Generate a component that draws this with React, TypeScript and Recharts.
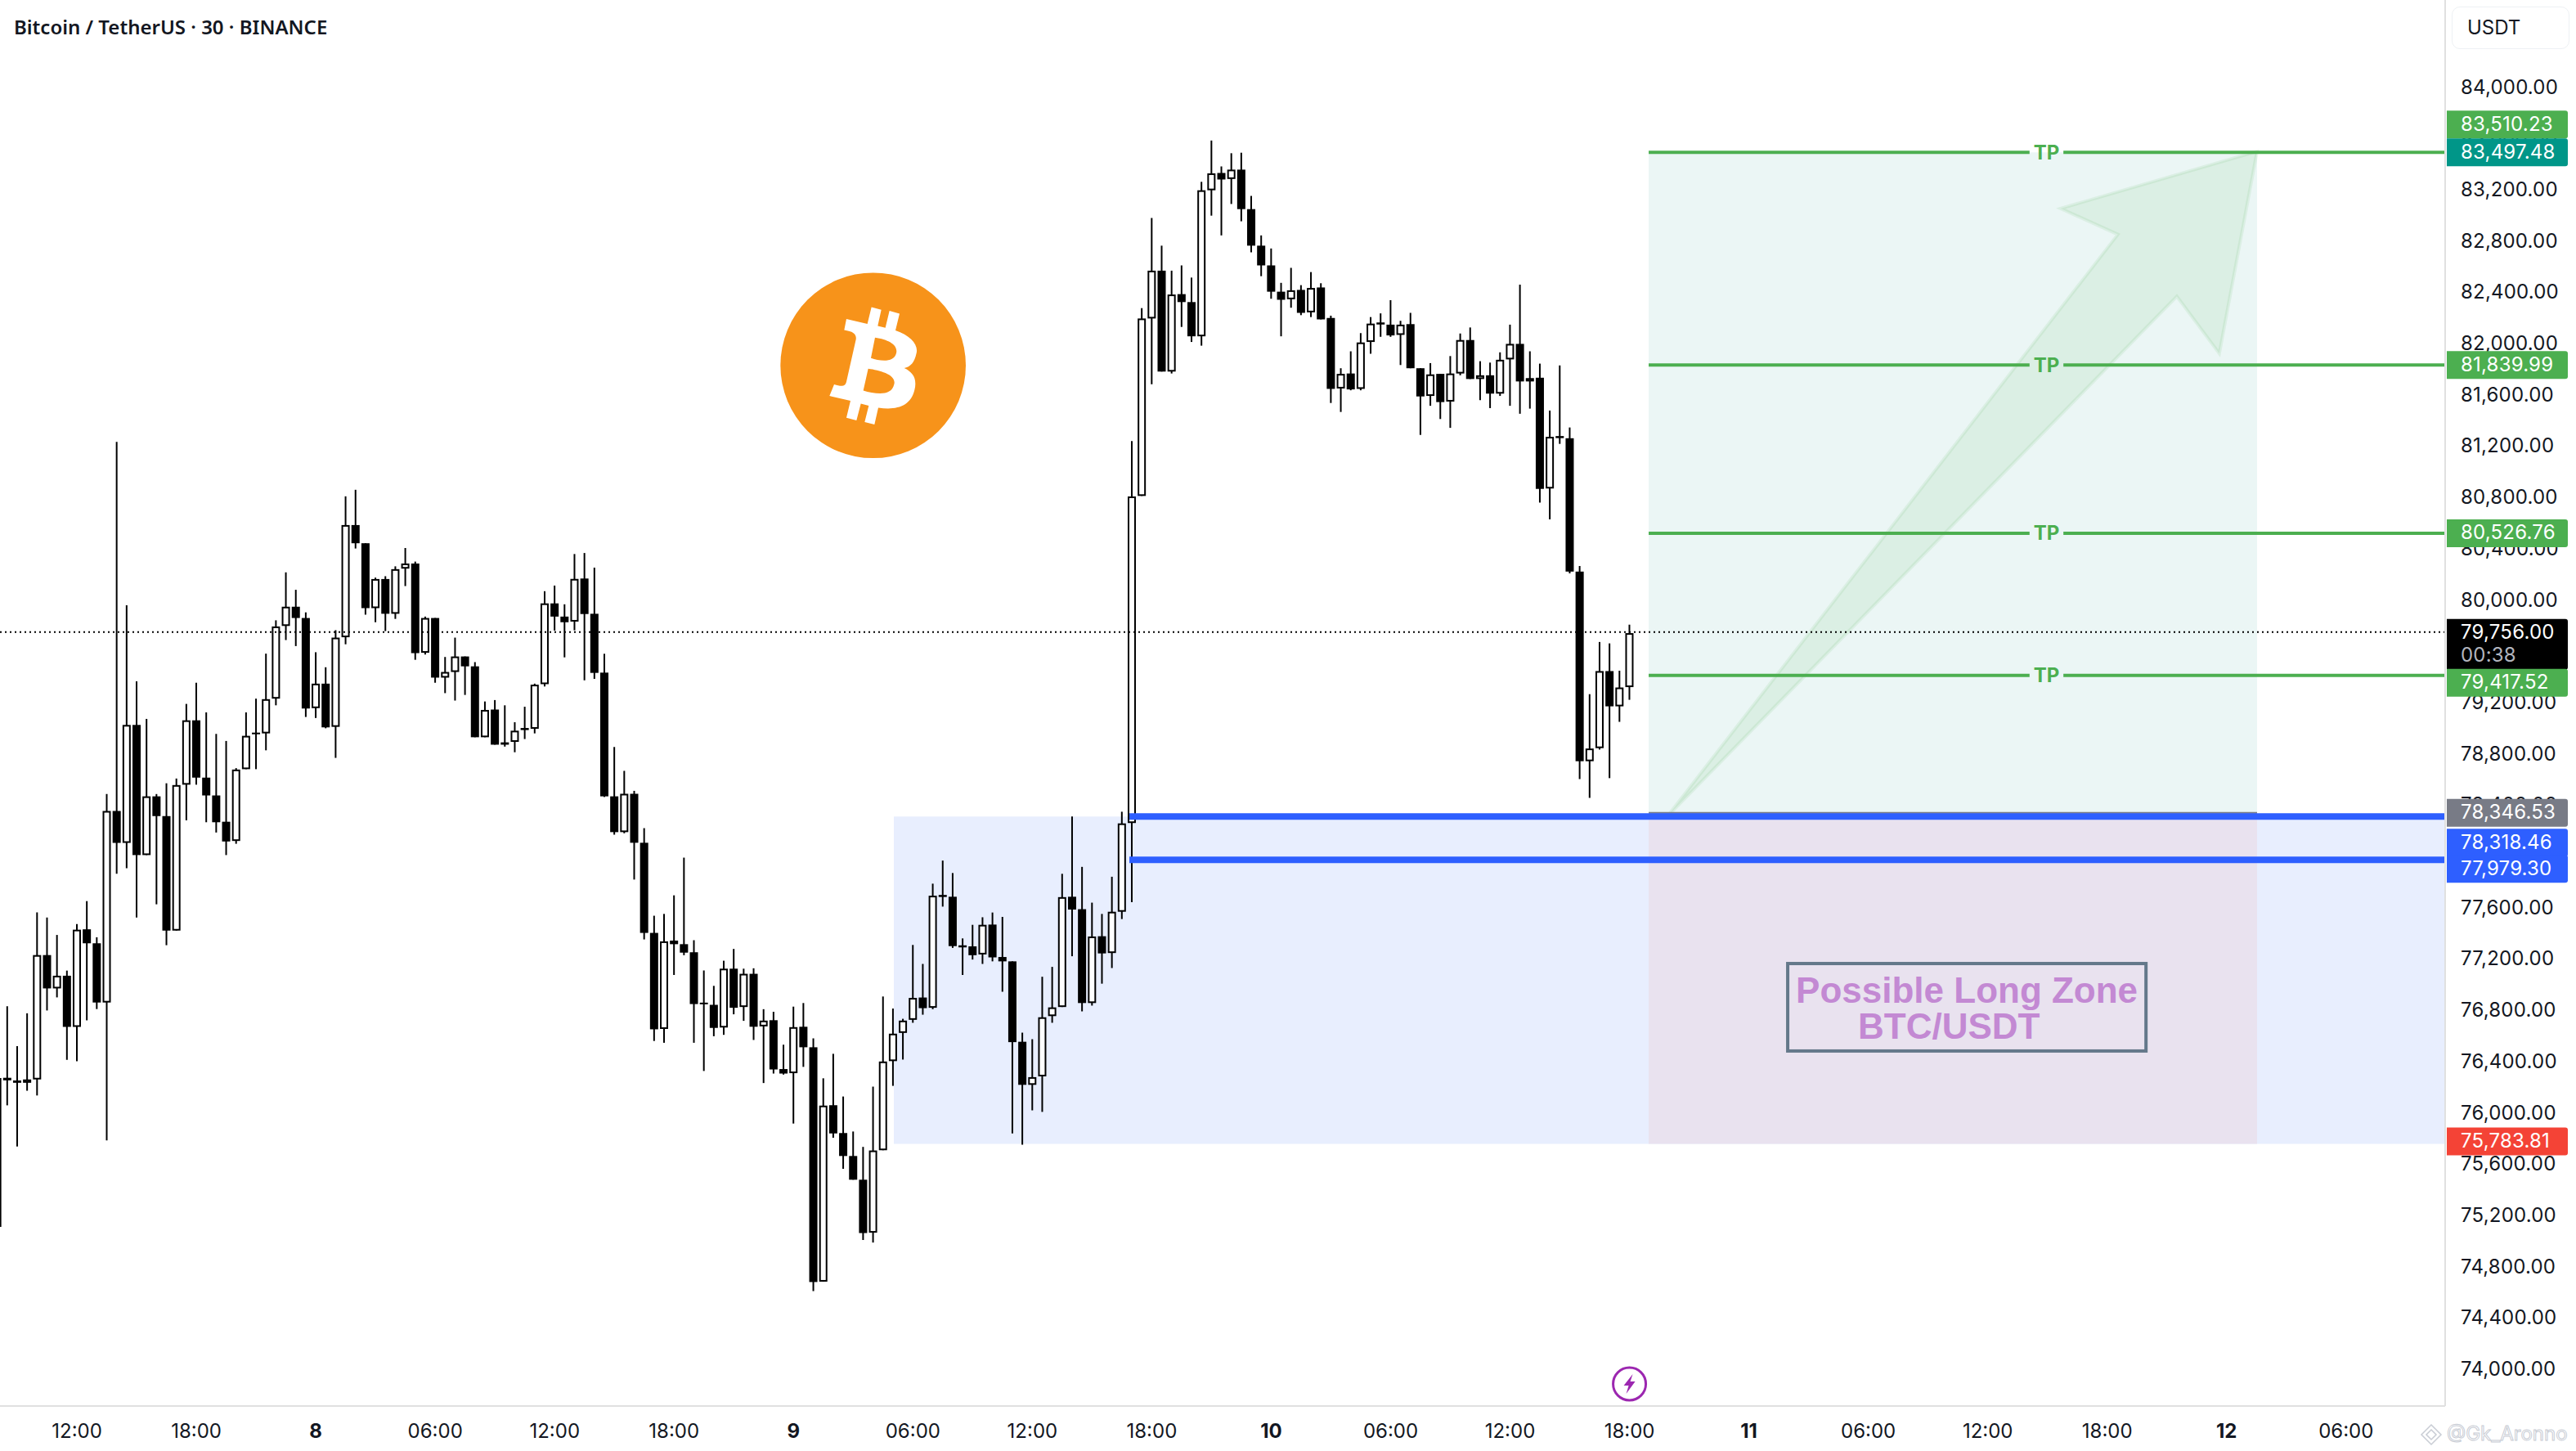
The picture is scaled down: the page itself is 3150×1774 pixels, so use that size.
import { Bar, ComposedChart, ReferenceArea, ReferenceDot, ReferenceLine, XAxis, YAxis } from 'recharts';

const CHART_W = 3150;
const CHART_H = 1774;
const FONT = 'Inter, "Noto Sans", sans-serif';

// BTC/USDT 30m candles, oldest first
const opens = [
  76278, 76280, 76259, 76241, 76267, 77237, 76977, 77076, 76677, 77438,
  77329, 76867, 78361, 78112, 79032, 78017, 78475, 78321, 77428, 78566,
  79068, 78621, 78482, 78277, 78127, 78687, 78972, 78966, 79237, 79804,
  79954, 79866, 79163, 79354, 79017, 79716, 80591, 80449, 79943, 80170,
  79899, 80251, 80291, 79595, 79866, 79401, 79445, 79566, 79489, 78936,
  79152, 78896, 78900, 78996, 79002, 79350, 79980, 79877, 79838, 80174,
  79899, 79440, 78475, 78196, 78495, 78113, 77410, 76661, 77350, 77322,
  77259, 76866, 76849, 76672, 77131, 76832, 77091, 76681, 76729, 76348,
  76316, 76678, 76518, 74690, 76066, 75849, 75670, 75485, 75072, 75715,
  76410, 76630, 76732, 76906, 76826, 77694, 77692, 77307, 77305, 77242,
  77475, 77222, 77188, 76561, 76225, 76291, 76761, 76832, 77692, 77595,
  76863, 77384, 77253, 77575, 78267, 80818, 82202, 82575, 81788, 82392,
  82330, 82063, 83202, 83337, 83290, 83363, 83055, 82770, 82616, 82411,
  82352, 82425, 82250, 82444, 82206, 81656, 81773, 81653, 82019, 82159,
  82154, 82074, 82158, 81814, 81598, 81770, 81554, 81773, 82034, 81730,
  81759, 81616, 81883, 82004, 81711, 81740, 80876, 81273, 81268, 80228,
  78749, 78851, 79452, 79177, 79327,
];
const highs = [
  76278, 76838, 76527, 76783, 77570, 77530, 77394, 77116, 77479, 77658,
  77376, 78493, 81240, 79965, 79372, 79079, 78493, 78577, 78614, 79196,
  79361, 79130, 78962, 78907, 78695, 79130, 79237, 79588, 79848, 80222,
  80086, 79910, 79599, 79482, 79771, 80815, 80866, 80449, 80181, 80192,
  80269, 80412, 80306, 79877, 79866, 79562, 79713, 79566, 79522, 79215,
  79226, 79185, 79053, 79174, 79354, 80075, 80119, 79973, 80365, 80373,
  80259, 79587, 78860, 78674, 78518, 78227, 77544, 77558, 77703, 77997,
  77353, 77117, 76997, 77193, 77285, 77131, 77134, 76815, 76795, 76538,
  76835, 76863, 76587, 76276, 76467, 76134, 75861, 75741, 76211, 76914,
  76820, 76740, 77316, 77168, 77794, 77974, 77877, 77367, 77473, 77532,
  77569, 77535, 77188, 76632, 76581, 77068, 77145, 77871, 78318, 77925,
  77646, 77558, 77848, 78355, 81246, 82283, 82986, 82770, 82575, 82616,
  82521, 83268, 83590, 83388, 83491, 83495, 83158, 82850, 82748, 82480,
  82597, 82462, 82564, 82477, 82224, 81814, 81946, 82088, 82213, 82242,
  82345, 82184, 82246, 81814, 81854, 81770, 81909, 82085, 82132, 81869,
  81858, 81938, 82154, 82466, 81946, 81850, 81484, 81836, 81352, 80272,
  79272, 79679, 79668, 79455, 79814,
];
const lows = [
  75117, 76065, 75744, 76179, 76142, 76805, 76907, 76420, 76409, 76728,
  76816, 75791, 77871, 77915, 77530, 78017, 77633, 77314, 77428, 78288,
  78566, 78273, 78193, 78017, 78105, 78687, 78687, 78834, 79185, 79694,
  79647, 79094, 79086, 79006, 78775, 79661, 80408, 79892, 79833, 79764,
  79859, 80115, 79540, 79581, 79361, 79280, 79222, 79266, 78936, 78936,
  78878, 78863, 78819, 78922, 78966, 79332, 79768, 79559, 79770, 79380,
  79391, 78470, 78176, 78187, 77826, 77359, 76567, 76553, 77082, 77236,
  76553, 76333, 76604, 76615, 76775, 76724, 76575, 76239, 76313, 76305,
  75923, 76365, 74616, 74690, 75812, 75570, 75485, 75015, 74995, 75715,
  76217, 76422, 76709, 76772, 76815, 77615, 77293, 77082, 77202, 77168,
  77188, 76951, 75846, 75758, 76026, 76014, 76709, 76832, 77228, 76798,
  76843, 77014, 77136, 77518, 77649, 80818, 81689, 81788, 81773, 82136,
  82019, 81990, 83004, 82850, 83095, 82960, 82718, 82532, 82356, 82063,
  82286, 82228, 82213, 82195, 81543, 81473, 81642, 81642, 81927, 82059,
  82059, 81839, 81814, 81294, 81521, 81418, 81349, 81759, 81730, 81565,
  81503, 81598, 81521, 81459, 81499, 80766, 80635, 81224, 80214, 78610,
  78463, 78840, 78617, 79056, 79228,
];
const closes = [
  75117, 76260, 76241, 76267, 77237, 76977, 77076, 76677, 77435, 77329,
  76867, 78361, 78112, 79032, 78017, 78475, 78321, 77428, 78563, 79068,
  78621, 78482, 78273, 78123, 78684, 78947, 78960, 79233, 79800, 79954,
  79866, 79160, 79354, 79013, 79713, 80591, 80449, 79943, 80170, 79899,
  80247, 80291, 79592, 79866, 79401, 79445, 79566, 79489, 78936, 79149,
  78878, 78878, 78987, 79008, 79346, 79980, 79877, 79833, 80171, 79897,
  79438, 78475, 78196, 78495, 78113, 77410, 76658, 77344, 77322, 77256,
  76855, 76854, 76669, 77131, 76826, 77091, 76678, 76726, 76345, 76313,
  76675, 76518, 74687, 76063, 75846, 75670, 75485, 75069, 75713, 76407,
  76624, 76726, 76903, 76823, 77700, 77706, 77307, 77313, 77236, 77473,
  77219, 77188, 76558, 76225, 76285, 76752, 76829, 77689, 77592, 76863,
  77382, 77250, 77575, 78264, 80814, 82202, 82575, 81788, 82389, 82330,
  82063, 83202, 83334, 83286, 83363, 83055, 82770, 82616, 82411, 82348,
  82422, 82246, 82440, 82195, 81653, 81770, 81649, 82015, 82162, 82171,
  82070, 82154, 81814, 81594, 81766, 81550, 81773, 82034, 81730, 81759,
  81616, 81880, 82004, 81711, 81737, 80873, 81279, 81285, 80228, 78749,
  78848, 79452, 79177, 79324, 79748,
];

const priceTicks = [
  74000, 74400, 74800, 75200, 75600, 76000, 76400, 76800, 77200, 77600, 78000,
  78400, 78800, 79200, 79600, 80000, 80400, 80800, 81200, 81600, 82000, 82400,
  82800, 83200, 83600, 84000,
];
const timeTicks = [8, 20, 32, 44, 56, 68, 80, 92, 104, 116, 128, 140, 152, 164, 176, 188, 200, 212, 224, 236];
const timeLabels = [
  '12:00', '18:00', '8', '06:00', '12:00', '18:00', '9', '06:00', '12:00', '18:00',
  '10', '06:00', '12:00', '18:00', '11', '06:00', '12:00', '18:00', '12', '06:00',
];
const dayLabels = ['8', '9', '10', '11', '12'];

const tpLevels = [83497.48, 81839.99, 80526.76, 79417.52];
const entryLevels = [78318.46, 77979.3];
const lastPrice = 79756;
const entryTop = 78346.53;
const zoneBottom = 75765;

const tagPrices = [83510.23, 83497.48, 81839.99, 80526.76, 79756, 79417.52, 78346.53, 78318.46, 77979.3, 75783.81];
const tagColors = ['#4CAF50', '#009688', '#4CAF50', '#4CAF50', '#000000', '#4CAF50', '#787B86', '#2E5FFF', '#2E5FFF', '#F44336'];
// the tags stack instead of overlapping, so some sit off their level
const tagNudges = [-32, 0, 0, 0, 16, 9, 0, 32, 11, 0];

const candles = opens.map((open, i) => ({ i, open, high: highs[i], low: lows[i], close: closes[i] }));

// plot is 2990px wide, 12.17px per candle
const X_DOMAIN = [0.27, 245.96];
const Y_DOMAIN = [73720, 84686];
const BOX_LEFT = 165.93;
const BOX_RIGHT = 227.06;
const ZONE_LEFT = 90.08;
const ENTRY_LEFT = 113.75;
const TP_LABEL = 205.9;

const CandleShape = (props: any) => {
  const { x, y, width, height, payload } = props;
  const { open, high, low, close } = payload;
  const top = Math.min(y, y + height);
  const h = Math.abs(height);
  const yOf = (p: number) => top + ((high - p) / (high - low)) * h;
  const up = close >= open;
  const bodyTop = yOf(Math.max(open, close));
  const bodyH = Math.max(yOf(Math.min(open, close)) - bodyTop, 2);
  const cx = x + width / 2;
  return (
    <g>
      <line x1={cx} x2={cx} y1={top} y2={top + h} stroke="#000" strokeWidth={2} />
      {up ? (
        <rect x={x + 1} y={bodyTop + 1} width={width - 2} height={Math.max(bodyH - 2, 0.5)} fill="#fff" stroke="#000" strokeWidth={2} />
      ) : (
        <rect x={x} y={bodyTop} width={width} height={bodyH} fill="#000" />
      )}
    </g>
  );
};

const PriceTick = ({ x, y, payload }: any) => (
  <text x={x + 11} y={y - 1.5} dominantBaseline="central" fontFamily={FONT} fontSize={24} fill="#131722" letterSpacing={0.2}>
    {payload.value.toLocaleString('en-US', { minimumFractionDigits: 2 })}
  </text>
);

const TimeTick = ({ x, y, index }: any) => {
  const label = timeLabels[index];
  return (
    <text x={x} y={y + 22} textAnchor="middle" dominantBaseline="central" fontFamily={FONT} fontSize={24} fill="#131722" fontWeight={dayLabels.includes(label) ? 700 : 400}>
      {label}
    </text>
  );
};

const tagShape = (price: number, idx: number) => (props: any) => {
  const edge = Math.max(props.x1, props.x2);
  const y = props.y1 + tagNudges[idx];
  const isLast = price === lastPrice;
  const h = isLast ? 62 : 34;
  const boxY = isLast ? y - 32 : y - h / 2;
  const tx = edge + 19;
  return (
    <g>
      <path d={`M${edge + 2} ${boxY}H${edge + 147}q3 0 3 3V${boxY + h - 3}q0 3 -3 3H${edge + 2}Z`} fill={tagColors[idx]} />
      <text x={tx} y={boxY + 16} dominantBaseline="central" fontFamily={FONT} fontSize={24} fill="#fff" letterSpacing={0.2}>
        {price.toLocaleString('en-US', { minimumFractionDigits: 2 })}
      </text>
      {isLast && (
        <text x={tx} y={boxY + 44} dominantBaseline="central" fontFamily={FONT} fontSize={24} fill="#B2B5BE" letterSpacing={0.2}>
          00:38
        </text>
      )}
    </g>
  );
};

const ArrowShape = ({ x, y, width, height }: any) => {
  const pts = [[0, 1], [0.764, 0.125], [0.667, 0.086], [1, 0], [0.936, 0.304], [0.864, 0.218]];
  return (
    <polygon
      points={pts.map(([a, b]) => `${x + a * width},${y + b * height}`).join(' ')}
      fill="#4CAF50"
      fillOpacity={0.1}
      stroke="#4CAF50"
      strokeOpacity={0.1}
      strokeWidth={4}
    />
  );
};

const LongZoneShape = ({ x, y, width, height }: any) => (
  <g fontFamily='"Liberation Sans", Arial, sans-serif' fontWeight={700} fontSize={44} fill="#C389D3">
    <rect x={x} y={y} width={width} height={height} fill="none" stroke="#64788A" strokeWidth={4} />
    <text x={x + 10} y={y + 48}>Possible Long Zone</text>
    <text x={x + 86} y={y + 92}>BTC/USDT</text>
  </g>
);

const BitcoinLogo = ({ cx, cy }: any) => (
  <g transform={`translate(${cx - 503 / 3} ${cy - 440 / 3}) scale(${1 / 3})`}>
    <circle cx={503} cy={440} r={340} fill="#F7931A" />
    <path
      fill="#fff"
      fillRule="evenodd"
      d="M405 270L482 288L497 226L533 236L520 295L548 302L563 240L600 250L585 312C640 330 670 365 662 395C655 430 640 445 617 450C650 465 665 490 655 530C640 590 590 605 522 595L508 657L472 648L487 588L458 580L442 642L405 632L420 570L343 552L360 510C385 517 400 520 405 500L440 345C443 325 430 315 397 310Z
      M510 338C560 345 595 365 588 395C580 430 530 425 495 413Z
      M485 452C530 458 590 475 580 510C570 555 510 545 467 532Z"
    />
  </g>
);

const BoltIcon = ({ cx, cy }: any) => (
  <g>
    <circle cx={cx} cy={cy} r={20} fill="#fff" stroke="#9C27B0" strokeWidth={3} />
    <path d={`M${cx + 4} ${cy - 12}L${cx - 7} ${cy + 2}H${cx - 1}L${cx - 4} ${cy + 12}L${cx + 7} ${cy - 3}H${cx + 1}Z`} fill="#9C27B0" />
  </g>
);

const TpText = ({ cx, cy }: any) => (
  <text x={cx} y={cy} textAnchor="middle" dominantBaseline="central" fontFamily={FONT} fontWeight={700} fontSize={24} fill="#4CAF50">
    TP
  </text>
);

export default function App() {
  return (
    <div style={{ position: 'absolute', left: 0, top: 0, width: CHART_W, height: CHART_H, background: '#fff', overflow: 'hidden' }}>
      <ComposedChart width={CHART_W} height={CHART_H} data={candles} margin={{ top: 0, right: 0, bottom: 0, left: 0 }}>
        <XAxis
          dataKey="i"
          type="number"
          domain={X_DOMAIN}
          allowDataOverflow
          ticks={timeTicks}
          interval={0}
          height={55}
          tickLine={false}
          axisLine={{ stroke: '#E0E0E0', strokeWidth: 2 }}
          tick={<TimeTick />}
        />
        <YAxis
          orientation="right"
          type="number"
          domain={Y_DOMAIN}
          allowDataOverflow
          ticks={priceTicks}
          interval={0}
          width={160}
          tickLine={false}
          axisLine={{ stroke: '#E0E0E0', strokeWidth: 2 }}
          tick={<PriceTick />}
        />

        <ReferenceArea x1={ZONE_LEFT} x2={X_DOMAIN[1]} y1={zoneBottom} y2={entryLevels[0]} fill="#E8EEFE" fillOpacity={1} stroke="none" />
        <ReferenceArea x1={BOX_LEFT} x2={BOX_RIGHT} y1={entryTop} y2={tpLevels[0]} fill="#EBF6F5" fillOpacity={1} stroke="none" />
        <ReferenceArea x1={BOX_LEFT} x2={BOX_RIGHT} y1={zoneBottom} y2={entryTop} fill="#E9E2EF" fillOpacity={1} stroke="none" />
        <ReferenceArea x1={167.8} x2={BOX_RIGHT} y1={entryLevels[0]} y2={83506} shape={<ArrowShape />} />
        <ReferenceArea x1={179.9} x2={215.9} y1={76489} y2={77171} shape={<LongZoneShape />} />
        <ReferenceDot x={88} y={81836} shape={<BitcoinLogo />} />
        <ReferenceDot x={164} y={73892} shape={<BoltIcon />} />

        <ReferenceLine y={lastPrice} stroke="#000" strokeWidth={2} strokeDasharray="2 4" />
        <ReferenceLine segment={[{ x: BOX_LEFT, y: entryTop }, { x: BOX_RIGHT, y: entryTop }]} stroke="#787B86" strokeWidth={2} />

        <Bar dataKey={(d: any) => [d.low, d.high]} barSize={10} shape={<CandleShape />} isAnimationActive={false} />

        {entryLevels.map((level) => (
          <ReferenceLine
            key={level}
            segment={[{ x: ENTRY_LEFT, y: level }, { x: X_DOMAIN[1], y: level }]}
            stroke="#2E5FFF"
            strokeWidth={8}
          />
        ))}
        {tpLevels.map((level) => (
          <ReferenceLine
            key={`a${level}`}
            segment={[{ x: BOX_LEFT, y: level }, { x: TP_LABEL - 1.7, y: level }]}
            stroke="#4CAF50"
            strokeWidth={4}
          />
        ))}
        {tpLevels.map((level) => (
          <ReferenceLine
            key={`b${level}`}
            segment={[{ x: TP_LABEL + 1.7, y: level }, { x: X_DOMAIN[1], y: level }]}
            stroke="#4CAF50"
            strokeWidth={4}
          />
        ))}
        {tpLevels.map((level) => (
          <ReferenceDot key={`t${level}`} x={TP_LABEL} y={level} shape={<TpText />} />
        ))}
      </ComposedChart>

      {/* the axis draws its ticks over reference lines, so the price tags get their own chart on top */}
      <div style={{ position: 'absolute', left: 0, top: 0 }}>
        <ComposedChart width={CHART_W} height={CHART_H} data={candles} margin={{ top: 0, right: 160, bottom: 55, left: 0 }}>
          <XAxis dataKey="i" type="number" domain={X_DOMAIN} allowDataOverflow hide />
          <YAxis type="number" domain={Y_DOMAIN} allowDataOverflow hide />
          {tagPrices.map((price, idx) => (
            <ReferenceLine key={price} y={price} stroke="none" shape={tagShape(price, idx)} />
          ))}
        </ComposedChart>
      </div>

      <div style={{ position: 'absolute', left: 17, top: 16, fontFamily: '"Noto Sans", sans-serif', fontSize: 24, fontWeight: 600, color: '#131722', whiteSpace: 'nowrap' }}>
        Bitcoin / TetherUS · 30 · BINANCE
      </div>
      <div style={{ position: 'absolute', left: 2998, top: 8, width: 144, height: 52, boxSizing: 'border-box', border: '1px solid #EEF1F4', borderRadius: 10, fontFamily: FONT, fontSize: 24, color: '#131722', lineHeight: '50px', paddingLeft: 18 }}>
        USDT
      </div>
      <svg style={{ position: 'absolute', left: 2958, top: 1740 }} width={30} height={28}>
        <path d="M15 2L27 14L15 26L3 14Z M15 8L21 14L15 20L9 14Z" fill="none" stroke="#C8CCD4" strokeWidth={1.5} />
      </svg>
      <div style={{ position: 'absolute', left: 2992, top: 1738, fontFamily: FONT, fontSize: 24, color: '#fff', WebkitTextStroke: '1px #C8CCD4', whiteSpace: 'nowrap' }}>
        @Gk_Aronno
      </div>
    </div>
  );
}
